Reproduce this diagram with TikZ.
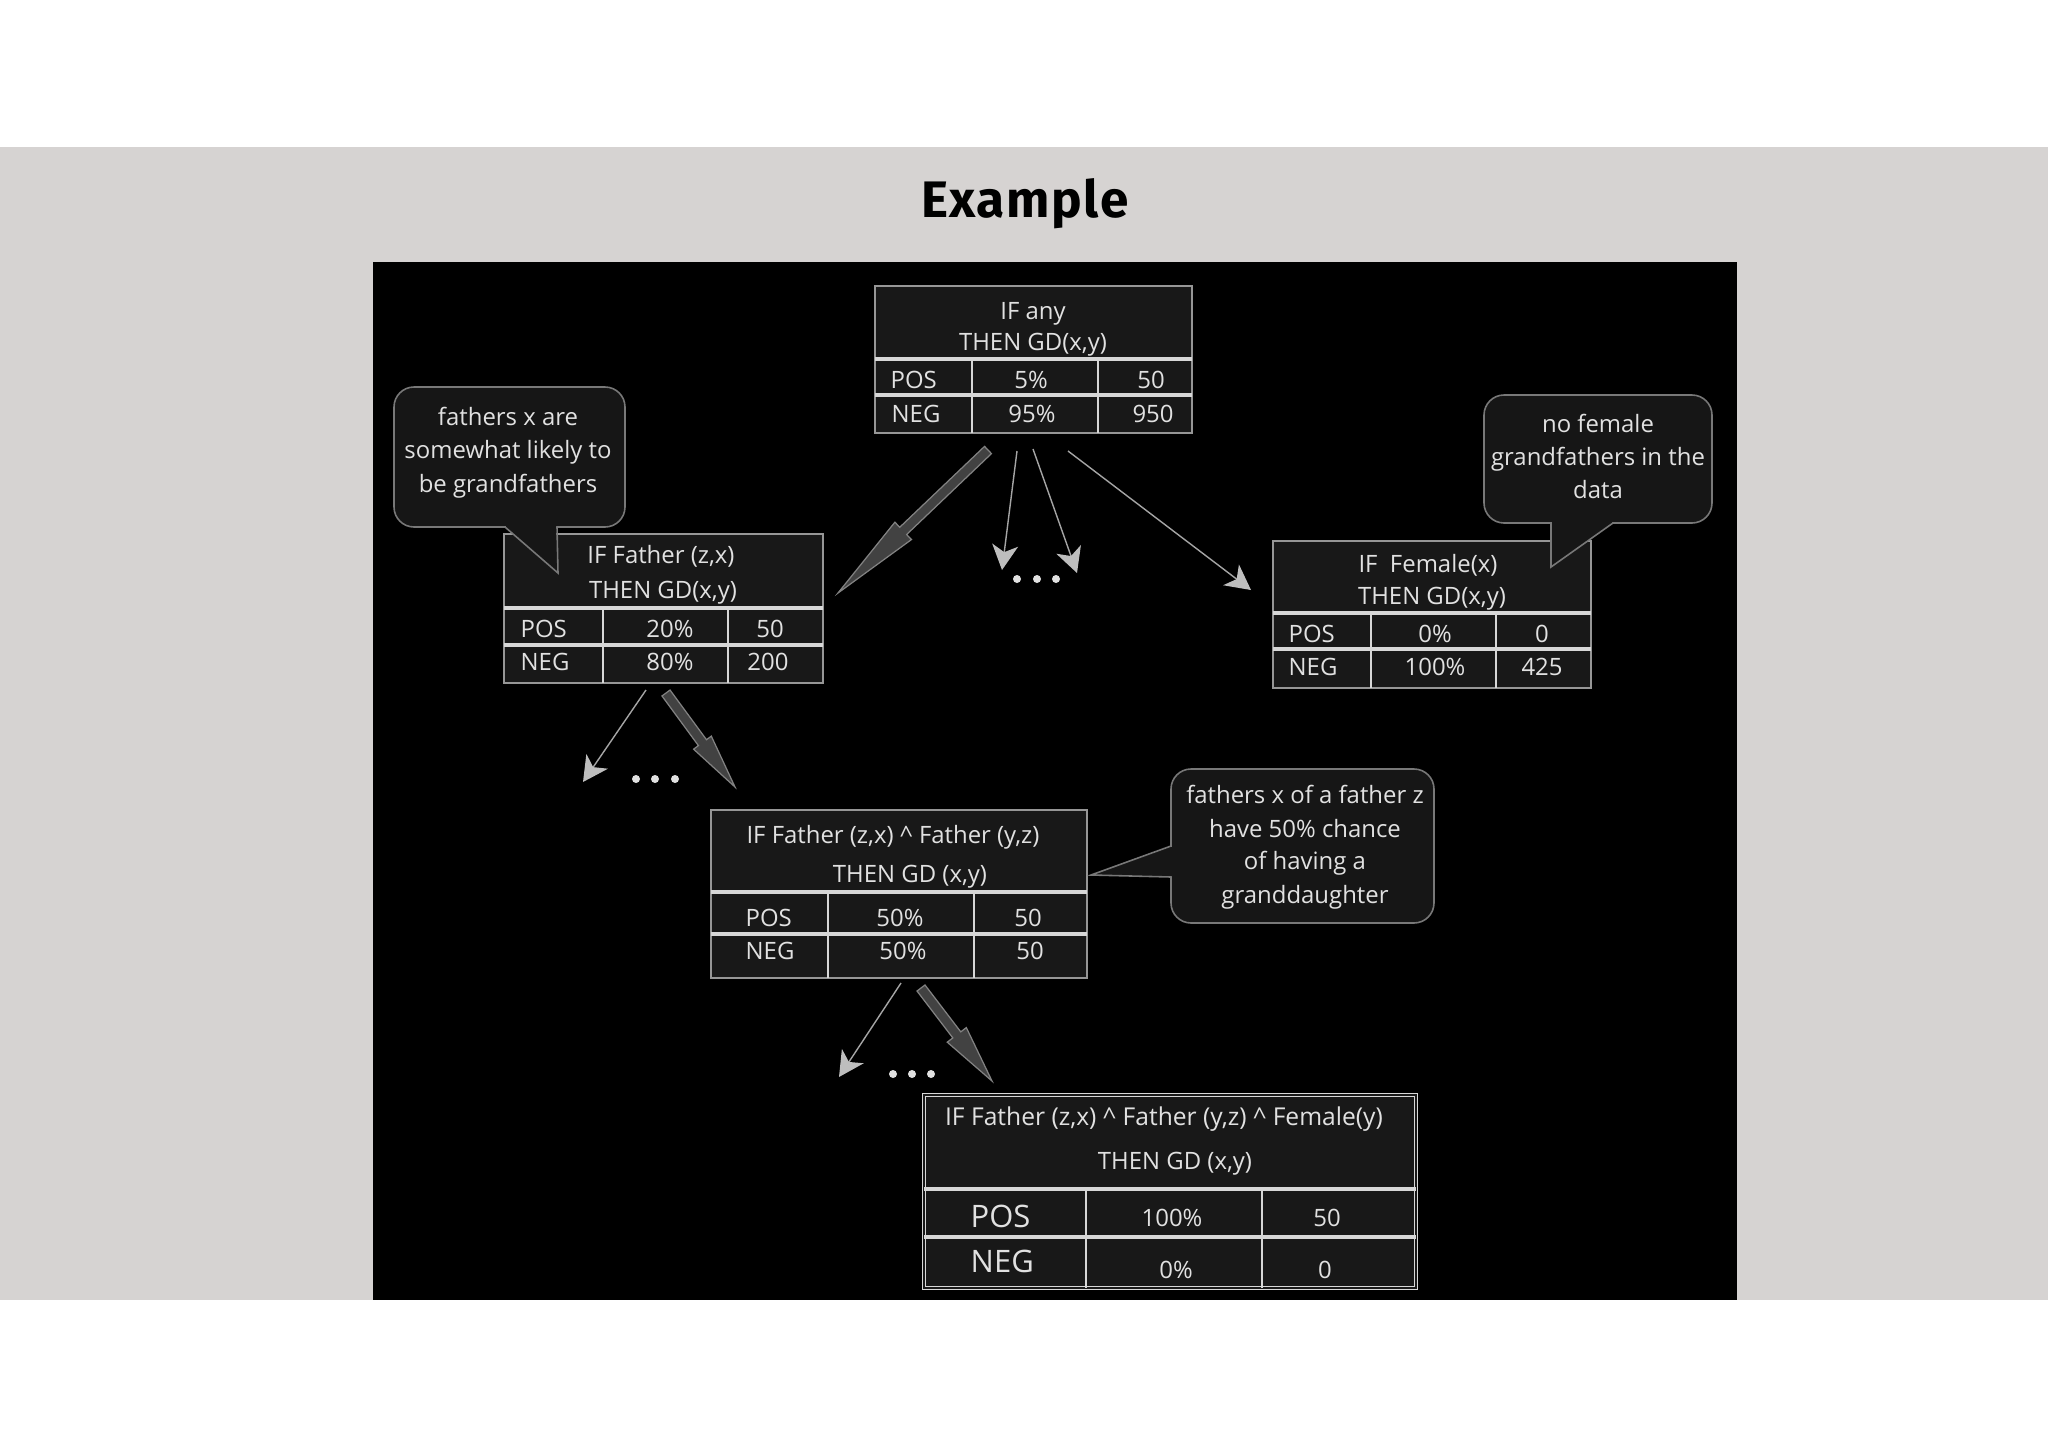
\documentclass[tikz,border=0pt]{standalone}
\usepackage{fontspec}
\setmainfont{Open Sans}
\newfontfamily\titlefont[LetterSpace=3]{Fira Sans}
\usetikzlibrary{arrows.meta,calc,fit}
\definecolor{band}{RGB}{214,211,210}
\definecolor{boxfill}{RGB}{24,24,24}
\definecolor{boxline}{RGB}{150,150,150}
\definecolor{divline}{RGB}{215,215,215}
\definecolor{txtcol}{RGB}{225,225,225}
\definecolor{callfill}{RGB}{22,22,22}
\definecolor{callline}{RGB}{120,120,120}
\definecolor{arrline}{RGB}{165,165,165}
\definecolor{arrhead}{RGB}{190,190,190}
\definecolor{blockfill}{RGB}{66,66,66}
\definecolor{blockline}{RGB}{130,130,130}
\tikzset{
  tbox/.style={draw=boxline, fill=boxfill, line width=0.6pt, inner sep=0pt},
  tboxdbl/.style={draw=divline, fill=boxfill, line width=0.4pt, double=boxfill, double distance=0.5pt, inner sep=0pt},
  divh/.style={draw=divline, line width=0.9pt},
  divv/.style={draw=divline, line width=0.6pt},
  txt/.style={text=txtcol, font=\fontsize{6.8}{8}\selectfont, inner sep=0pt, anchor=base},
  bigtxt/.style={text=txtcol, font=\fontsize{8.8}{10}\selectfont, inner sep=0pt, anchor=base},
  callout/.style={draw=callline, fill=callfill, line width=0.45pt, rounded corners=0.2cm, inner sep=0pt},
  tailline/.style={draw=callline, line width=0.45pt},
  thinarr/.style={draw=arrline, line width=0.4pt, -{Stealth[length=0.25cm, width=0.26cm, inset=0.07cm, color=arrhead]}},
  blockarr/.style={fill=blockfill, draw=blockline, line width=0.35pt, line join=miter},
  dotn/.style={circle, fill=txtcol, inner sep=0pt, minimum size=0.08cm},
}
\newcommand{\blockarrow}[5]{%
  \coordinate (bah) at ($(#2)!#5!(#1)$);
  \draw[blockarr] ($(#1)!#3!90:(#2)$) -- ($(bah)!#3!90:(#2)$) -- ($(bah)!#4!90:(#2)$) -- (#2)
    -- ($(bah)!#4!-90:(#2)$) -- ($(bah)!#3!-90:(#2)$) -- ($(#1)!#3!-90:(#2)$) -- cycle;}
\begin{document}
\begin{tikzpicture}[x=0.01cm, y=-0.01cm]
\useasboundingbox (0,0) rectangle (2048,1448);
\fill[white] (0,0) rectangle (2048,1448);
\fill[band] (0,147) rectangle (2048,1300);
\fill[black] (373,262) rectangle (1737,1300);
\node[font=\titlefont\bfseries\fontsize{14.6}{17}\selectfont, anchor=base, inner sep=0pt] (title) at (1025,217) {Example};

% ---------- top table ----------
\node[tbox, fit={(875,286) (1192,433)}] (T0) {};
\draw[divh] (875,359) -- (1192,359);
\draw[divh] (875,395) -- (1192,395);
\draw[divv] (972,359) -- (972,433);
\draw[divv] (1098,359) -- (1098,433);
\node[txt] (T0h1) at (1033,319) {IF any};
\node[txt] (T0h2) at (1033,350) {THEN GD(x,y)};
\node[txt, anchor=base west] (T0p) at (890,388) {POS};
\node[txt, anchor=base west] (T0n) at (891,422) {NEG};
\node[txt] (T0p1) at (1031,388) {5\%};
\node[txt] (T0n1) at (1032,422) {95\%};
\node[txt] (T0p2) at (1151,388) {50};
\node[txt] (T0n2) at (1153,422) {950};

% ---------- left table ----------
\node[tbox, fit={(504,534) (823,683)}] (T1) {};
\draw[divh] (504,608) -- (823,608);
\draw[divh] (504,645) -- (823,645);
\draw[divv] (603,608) -- (603,683);
\draw[divv] (728,608) -- (728,683);
\node[txt] (T1h1) at (661,563) {IF Father (z,x)};
\node[txt] (T1h2) at (663,598) {THEN GD(x,y)};
\node[txt, anchor=base west] (T1p) at (520,637) {POS};
\node[txt, anchor=base west] (T1n) at (520,670) {NEG};
\node[txt] (T1p1) at (670,637) {20\%};
\node[txt] (T1n1) at (670,670) {80\%};
\node[txt] (T1p2) at (770,637) {50};
\node[txt] (T1n2) at (768,670) {200};

% ---------- right table ----------
\node[tbox, fit={(1273,541) (1591,688)}] (T2) {};
\draw[divh] (1273,613) -- (1591,613);
\draw[divh] (1273,649) -- (1591,649);
\draw[divv] (1371,613) -- (1371,688);
\draw[divv] (1496,613) -- (1496,688);
\node[txt] (T2h1) at (1428,572) {IF\ \ Female(x)};
\node[txt] (T2h2) at (1432,604) {THEN GD(x,y)};
\node[txt, anchor=base west] (T2p) at (1288,642) {POS};
\node[txt, anchor=base west] (T2n) at (1288,675) {NEG};
\node[txt] (T2p1) at (1435,642) {0\%};
\node[txt] (T2n1) at (1435,675) {100\%};
\node[txt] (T2p2) at (1542,642) {0};
\node[txt] (T2n2) at (1542,675) {425};

% ---------- middle table ----------
\node[tbox, fit={(711,810) (1087,978)}] (T3) {};
\draw[divh] (711,892) -- (1087,892);
\draw[divh] (711,934) -- (1087,934);
\draw[divv] (828,892) -- (828,978);
\draw[divv] (974,892) -- (974,978);
\node[txt] (T3h1) at (893,843) {IF Father (z,x) \^{} Father (y,z)};
\node[txt] (T3h2) at (910,882) {THEN GD (x,y)};
\node[txt, anchor=base west] (T3p) at (745,926) {POS};
\node[txt, anchor=base west] (T3n) at (745,959) {NEG};
\node[txt] (T3p1) at (900,926) {50\%};
\node[txt] (T3n1) at (903,959) {50\%};
\node[txt] (T3p2) at (1028,926) {50};
\node[txt] (T3n2) at (1030,959) {50};

% ---------- bottom table ----------
\node[tboxdbl, fit={(924,1095) (1416,1288)}] (T4) {};
\draw[divh] (924,1189) -- (1416,1189);
\draw[divh] (924,1237) -- (1416,1237);
\draw[divv] (1086,1189) -- (1086,1288);
\draw[divv] (1262,1189) -- (1262,1288);
\node[txt, font=\fontsize{7}{8}\selectfont] (T4h1) at (1164,1125) {IF Father (z,x) \^{} Father (y,z) \^{} Female(y)};
\node[txt] (T4h2) at (1175,1169) {THEN GD (x,y)};
\node[bigtxt, anchor=base west] (T4p) at (970,1227) {POS};
\node[bigtxt, anchor=base west] (T4n) at (970,1272) {NEG};
\node[txt] (T4p1) at (1172,1226) {100\%};
\node[txt] (T4n1) at (1176,1278) {0\%};
\node[txt] (T4p2) at (1327,1226) {50};
\node[txt] (T4n2) at (1325,1278) {0};

% ---------- callout 1 ----------
\node[callout, fit={(394,387) (625,527)}] (C1) {};
\fill[callfill] (506,524) -- (506,528) -- (558,573) -- (556,528) -- (556,524) -- cycle;
\coordinate (C1a) at (505,527);
\coordinate (C1t) at (558,573);
\coordinate (C1b) at (557,527);
\draw[tailline] (C1a) -- (C1t) -- (C1b);
\node[txt] (C1l1) at (508,425) {fathers x are};
\node[txt] (C1l2) at (508,458) {somewhat likely to};
\node[txt] (C1l3) at (508,492) {be grandfathers};

% ---------- callout 2 ----------
\node[callout, fit={(1484,395) (1712,523)}] (C2) {};
\fill[callfill] (1552,520) -- (1552,524) -- (1551,567) -- (1612,524) -- (1612,520) -- cycle;
\coordinate (C2a) at (1551,523);
\coordinate (C2t) at (1551,567);
\coordinate (C2b) at (1613,523);
\draw[tailline] (C2a) -- (C2t) -- (C2b);
\node[txt] (C2l1) at (1598,432) {no female};
\node[txt] (C2l2) at (1598,465) {grandfathers in the};
\node[txt] (C2l3) at (1598,498) {data};

% ---------- callout 3 ----------
\node[callout, fit={(1171,769) (1434,923)}] (C3) {};
\fill[callfill] (1174,847) -- (1170,847) -- (1091,875) -- (1170,876) -- (1174,876) -- cycle;
\coordinate (C3a) at (1171,846);
\coordinate (C3t) at (1091,875);
\coordinate (C3b) at (1171,877);
\draw[tailline] (C3a) -- (C3t) -- (C3b);
\node[txt] (C3l1) at (1305,803) {fathers x of a father z};
\node[txt] (C3l2) at (1305,837) {have 50\% chance};
\node[txt] (C3l3) at (1305,869) {of having a};
\node[txt] (C3l4) at (1305,903) {granddaughter};

% ---------- arrows ----------
\coordinate (a1s) at (988,450);  \coordinate (a1e) at (838,593);
\coordinate (a2s) at (666,693);  \coordinate (a2e) at (735,787);
\coordinate (a3s) at (921,988);  \coordinate (a3e) at (992,1081);
\blockarrow{a1s}{a1e}{0.05cm}{0.12cm}{0.9cm}
\blockarrow{a2s}{a2e}{0.05cm}{0.11cm}{0.55cm}
\blockarrow{a3s}{a3e}{0.05cm}{0.12cm}{0.58cm}

\coordinate (t1s) at (1017,451); \coordinate (t1e) at (1002,570);
\coordinate (t2s) at (1033,449); \coordinate (t2e) at (1077,573);
\coordinate (t3s) at (1068,451); \coordinate (t3e) at (1251,590);
\coordinate (t4s) at (646,690);  \coordinate (t4e) at (583,782);
\coordinate (t5s) at (901,983);  \coordinate (t5e) at (839,1077);
\draw[thinarr] (t1s) -- (t1e);
\draw[thinarr] (t2s) -- (t2e);
\draw[thinarr] (t3s) -- (t3e);
\draw[thinarr] (t4s) -- (t4e);
\draw[thinarr] (t5s) -- (t5e);

% ---------- dots ----------
\node[dotn] (d1a) at (1017,579) {};
\node[dotn] (d1b) at (1037,579) {};
\node[dotn] (d1c) at (1056,579) {};
\node[dotn] (d2a) at (636,779) {};
\node[dotn] (d2b) at (655,779) {};
\node[dotn] (d2c) at (675,779) {};
\node[dotn] (d3a) at (893,1074) {};
\node[dotn] (d3b) at (912,1074) {};
\node[dotn] (d3c) at (931,1074) {};
\end{tikzpicture}
\end{document}
